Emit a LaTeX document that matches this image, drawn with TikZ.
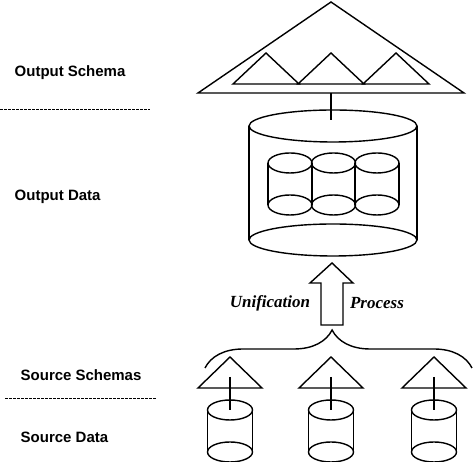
\documentclass[tikz,border=0pt]{standalone}
\usepackage{fontspec}
\setmainfont{Liberation Sans}
\newfontfamily\timesfont{Liberation Serif}
\usetikzlibrary{decorations.pathreplacing}
% drum: centre x, top y, bottom y, x radius, y radius
\def\drum(#1,#2,#3)(#4:#5){%
	\draw (#1-#4,#2) -- (#1-#4,#3) (#1+#4,#2) -- (#1+#4,#3);
	\draw (#1,#2) ellipse ({#4pt} and {#5pt});
	\draw (#1,#3) ellipse ({#4pt} and {#5pt});}
% tri: centre x, base y, half width, apex y
\def\tri(#1,#2,#3,#4){\draw (#1-#3,#2) -- (#1,#4) -- (#1+#3,#2) -- cycle;}

\begin{document}
\begin{tikzpicture}[x=1pt,y=1pt,line width=1.4pt,line join=miter,
	lbl/.style={anchor=west,inner sep=0pt,font=\fontsize{15}{18}\selectfont\bfseries},
	proc/.style={inner sep=0pt,font=\fontsize{17}{20}\selectfont\timesfont\bfseries\itshape},
	sep/.style={line width=1pt,dash pattern=on 3pt off 1pt}]
		%%%%% START %%%%%
		\useasboundingbox (0,0) rectangle (474,462);
		
		% left labels
		\node[lbl] (outschema) at (14,389) {Output\hspace{4pt}Schema};
		\node[lbl] (outdata) at (14,265) {Output Data};
		\node[lbl] (srcschema) at (20,87) {Source\hspace{4pt}Schemas};
		\node[lbl] (srcdata) at (20,25) {Source Data};
		\draw[sep] (0,352) -- (150,352);
		\draw[sep] (5,63) -- (156,63);
		
		% output schema
		\tri(331,369,133,460)
		\foreach \x in {266,331,396} {\tri(\x,378,33,409)}
		\coordinate (schemabase) at (331,369);
		
		% output data
		\drum(333,336,222)(84:16)
		\foreach \x in {290,333.5,377} {\drum(\x,299,257)(22:10)}
		\coordinate (datatop) at (331,342);
		\draw (schemabase) -- (datatop);
		
		% unification
		\draw (321,137) -- (321,179) -- (310,179) -- (332,199) -- (353,179) -- (343,179) -- (343,137) -- cycle;
		\node[proc] (unif) at (270,159) {Unification};
		\node[proc] (procs) at (377,159) {Process};
		\draw[decorate,decoration={brace,amplitude=38pt,aspect=0.476}] (205,94) -- (472,94);
		
		% sources
		\foreach \x/\n in {230/a,331/b,434/c} {
			\tri(\x,74,32,105)
			\drum(\x,52,10)(22.5:10)
			\coordinate (s\n) at (\x,85);
			\coordinate (d\n) at (\x,52);
			\draw (s\n) -- (d\n);
		}
		%%%%% END %%%%%
\end{tikzpicture}
\end{document}
